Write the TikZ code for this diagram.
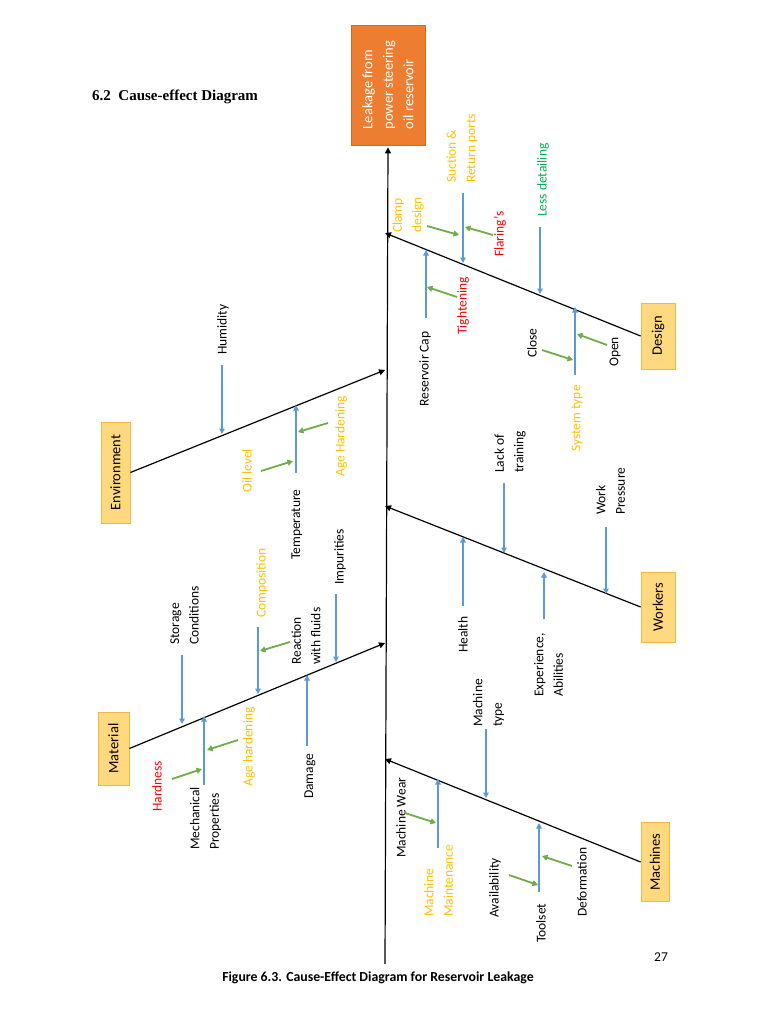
\documentclass[tikz,border=0pt]{standalone}
\usepackage{fontspec}
\setmainfont{Carlito}
\newfontfamily\calfont{Carlito}
\newfontfamily\timesfont{Liberation Serif}
\usetikzlibrary{arrows.meta}
\definecolor{headorange}{HTML}{ED7D31}
\definecolor{headborder}{HTML}{D9691F}
\definecolor{catfill}{HTML}{FFD97F}
\definecolor{catborder}{HTML}{F2B844}
\definecolor{bluearrow}{HTML}{5B9BD5}
\definecolor{greenarrow}{HTML}{70AD47}
\definecolor{yellowtext}{HTML}{FFC000}
\definecolor{redtext}{HTML}{FF0000}
\definecolor{greentext}{HTML}{00B050}
\tikzset{
  lbl/.style={rotate=90, anchor=west, inner sep=0pt, align=left,
    font=\calfont\fontsize{13.5}{19.5}\selectfont, text=black},
  ylbl/.style={lbl, text=yellowtext},
  rlbl/.style={lbl, text=redtext},
  glbl/.style={lbl, text=greentext},
  catbox/.style={rotate=90, draw=catborder, fill=catfill, line width=0.8pt,
    inner sep=0pt, font=\calfont\fontsize{14.5}{17}\selectfont},
  headbox/.style={rotate=90, draw=headborder, fill=headorange, line width=0.8pt,
    inner sep=0pt, align=left, text=white,
    font=\calfont\fontsize{14.5}{20.5}\selectfont,
    minimum width=120pt, minimum height=74pt},
  mainarrow/.style={line width=1.2pt, -{Triangle[width=6pt,length=6pt]}},
  bluearr/.style={draw=bluearrow, line width=1.3pt, -{Triangle[width=5.5pt,length=5.5pt]}},
  greenarr/.style={draw=greenarrow, line width=1.8pt, -{Triangle[width=6pt,length=5.5pt]}},
}
\begin{document}
\begin{tikzpicture}[x=1pt,y=-1pt]
\useasboundingbox (0,0) rectangle (768,1024);
\fill[white] (0,0) rectangle (768,1024);

% title, caption, page number
\node[anchor=west, inner sep=0pt, font=\timesfont\bfseries\fontsize{15}{18}\selectfont] (title) at (92,97) {6.2\ \ Cause-effect Diagram};
\node[inner sep=0pt, font=\calfont\bfseries\fontsize{13.8}{16}\selectfont] (caption) at (378,978) {Figure 6.3. Cause-Effect Diagram for Reservoir Leakage};
\node[inner sep=0pt, font=\calfont\fontsize{13.5}{16}\selectfont] (pagenum) at (661,957) {27};

% head
\node[headbox] (head) at (388,85) {Leakage from\\power steering\\oil reservoir};

% category boxes
\node[catbox, minimum width=101pt, minimum height=29pt] (env) at (115.5,472.5) {Environment};
\node[catbox, minimum width=73pt, minimum height=31pt] (mat) at (113.5,748.5) {Material};
\node[catbox, minimum width=66pt, minimum height=34pt] (des) at (658,336) {Design};
\node[catbox, minimum width=70pt, minimum height=34pt] (wor) at (658,607) {Workers};
\node[catbox, minimum width=79pt, minimum height=28pt] (mac) at (655,862) {Machines};

% spine
\coordinate (spinebot) at (385,964);
\coordinate (jD) at (385,233);
\coordinate (jE) at (385,370);
\coordinate (jW) at (385,506);
\coordinate (jM) at (385,643);
\coordinate (jC) at (385,759);
\draw[line width=1.2pt, -{Triangle[width=6pt,length=6pt]}, shorten >=2pt] (spinebot) -- (head.west);

% branches
\draw[mainarrow] (env.south) -- (jE);
\draw[mainarrow] (mat.south) -- (jM);
\draw[mainarrow] (des.north) -- (jD);
\draw[mainarrow] (wor.north) -- (jW);
\draw[mainarrow] (mac.north) -- (jC);

% ===== Environment =====
\node[lbl] (humidity) at (223,355) {Humidity};
\coordinate (hum1) at (222,365); \coordinate (hum2) at (222,434);
\draw[bluearr] (hum1) -- (hum2);
\node[lbl] (temperature) at (297,560) {Temperature};
\coordinate (tem1) at (296,473); \coordinate (tem2) at (296,405);
\draw[bluearr] (tem1) -- (tem2);
\node[ylbl] (oillevel) at (247,493) {Oil level};
\coordinate (oil1) at (261,471); \coordinate (oil2) at (293,461);
\draw[greenarr] (oil1) -- (oil2);
\node[ylbl] (agehardE) at (341,477) {Age Hardening};
\coordinate (ahe1) at (328,423); \coordinate (ahe2) at (298,432);
\draw[greenarr] (ahe1) -- (ahe2);

% ===== Material =====
\node[lbl] (storage) at (184.5,645) {Storage\\Conditions};
\coordinate (sto1) at (182,655); \coordinate (sto2) at (182,724);
\draw[bluearr] (sto1) -- (sto2);
\node[lbl] (mechanical) at (205.5,850) {Mechanical\\Properties};
\coordinate (mec1) at (204,785); \coordinate (mec2) at (204,716);
\draw[bluearr] (mec1) -- (mec2);
\node[rlbl] (hardness) at (157,812) {Hardness};
\coordinate (har1) at (172,779); \coordinate (har2) at (202,769);
\draw[greenarr] (har1) -- (har2);
\node[ylbl] (agehardM) at (249,787) {Age hardening};
\coordinate (ahm1) at (238,740); \coordinate (ahm2) at (207,750);
\draw[greenarr] (ahm1) -- (ahm2);
\node[ylbl] (composition) at (262,618) {Composition};
\coordinate (com1) at (258,627); \coordinate (com2) at (258,694);
\draw[bluearr] (com1) -- (com2);
\node[lbl] (reaction) at (306,665) {Reaction\\with fluids};
\coordinate (rea1) at (290,642); \coordinate (rea2) at (260,651);
\draw[greenarr] (rea1) -- (rea2);
\node[lbl] (impurities) at (340,585) {Impurities};
\coordinate (imp1) at (336,594); \coordinate (imp2) at (336,662);
\draw[bluearr] (imp1) -- (imp2);
\node[lbl] (damage) at (310,799) {Damage};
\coordinate (dam1) at (307,746); \coordinate (dam2) at (307,675);
\draw[bluearr] (dam1) -- (dam2);

% ===== Design =====
\node[lbl] (rescap) at (425,407) {Reservoir Cap};
\coordinate (rc1) at (426,318); \coordinate (rc2) at (426,250);
\draw[bluearr] (rc1) -- (rc2);
\node[rlbl] (tightening) at (463,335) {Tightening};
\coordinate (tig1) at (457,297); \coordinate (tig2) at (427,287);
\draw[greenarr] (tig1) -- (tig2);
\node[ylbl] (suction) at (462,183) {Suction \&\\Return ports};
\coordinate (suc1) at (463,193); \coordinate (suc2) at (463,263);
\draw[bluearr] (suc1) -- (suc2);
\node[ylbl] (clamp) at (408,233) {Clamp\\design};
\coordinate (cla1) at (427,226); \coordinate (cla2) at (459,235);
\draw[greenarr] (cla1) -- (cla2);
\node[rlbl] (flarings) at (500,257) {Flaring’s};
\coordinate (fla1) at (493,235); \coordinate (fla2) at (465,227);
\draw[greenarr] (fla1) -- (fla2);
\node[glbl] (lessdet) at (543,217) {Less detailing};
\coordinate (les1) at (540,227); \coordinate (les2) at (540,294);
\draw[bluearr] (les1) -- (les2);
\node[ylbl] (systype) at (577,452) {System type};
\coordinate (sys1) at (575,375); \coordinate (sys2) at (575,307);
\draw[bluearr] (sys1) -- (sys2);
\node[lbl] (close) at (532,358) {Close};
\coordinate (clo1) at (542,350); \coordinate (clo2) at (573,360);
\draw[greenarr] (clo1) -- (clo2);
\node[lbl] (open) at (615,367) {Open};
\coordinate (ope1) at (607,345); \coordinate (ope2) at (577,334);
\draw[greenarr] (ope1) -- (ope2);

% ===== Workers =====
\node[lbl] (health) at (463,653) {Health};
\coordinate (hea1) at (463,606); \coordinate (hea2) at (463,537);
\draw[bluearr] (hea1) -- (hea2);
\node[lbl] (lack) at (510,473) {Lack of\\training};
\coordinate (lac1) at (504,483); \coordinate (lac2) at (504,553);
\draw[bluearr] (lac1) -- (lac2);
\node[lbl] (experience) at (548.5,697) {Experience,\\Abilities};
\coordinate (exp1) at (544,619); \coordinate (exp2) at (544,572);
\draw[bluearr] (exp1) -- (exp2);
\node[lbl] (work) at (610.5,515) {Work\\Pressure};
\coordinate (wor1) at (606,527); \coordinate (wor2) at (606,594);
\draw[bluearr] (wor1) -- (wor2);

% ===== Machines =====
\node[lbl] (mtype) at (488.5,727) {Machine\\type};
\coordinate (mty1) at (486,729); \coordinate (mty2) at (486,798);
\draw[bluearr] (mty1) -- (mty2);
\node[ylbl] (mmaint) at (438.5,917) {Machine\\Maintenance};
\coordinate (mma1) at (438,848); \coordinate (mma2) at (438,779);
\draw[bluearr] (mma1) -- (mma2);
\node[lbl] (mwear) at (401,858) {Machine Wear};
\coordinate (mwe1) at (405,813); \coordinate (mwe2) at (436,823);
\draw[greenarr] (mwe1) -- (mwe2);
\node[lbl] (toolset) at (541,943) {Toolset};
\coordinate (too1) at (539,892); \coordinate (too2) at (539,823);
\draw[bluearr] (too1) -- (too2);
\node[lbl] (avail) at (495,918) {Availability};
\coordinate (ava1) at (509,875); \coordinate (ava2) at (538,885);
\draw[greenarr] (ava1) -- (ava2);
\node[lbl] (deform) at (582,917) {Deformation};
\coordinate (def1) at (572,866); \coordinate (def2) at (542,856);
\draw[greenarr] (def1) -- (def2);
\end{tikzpicture}
\end{document}
